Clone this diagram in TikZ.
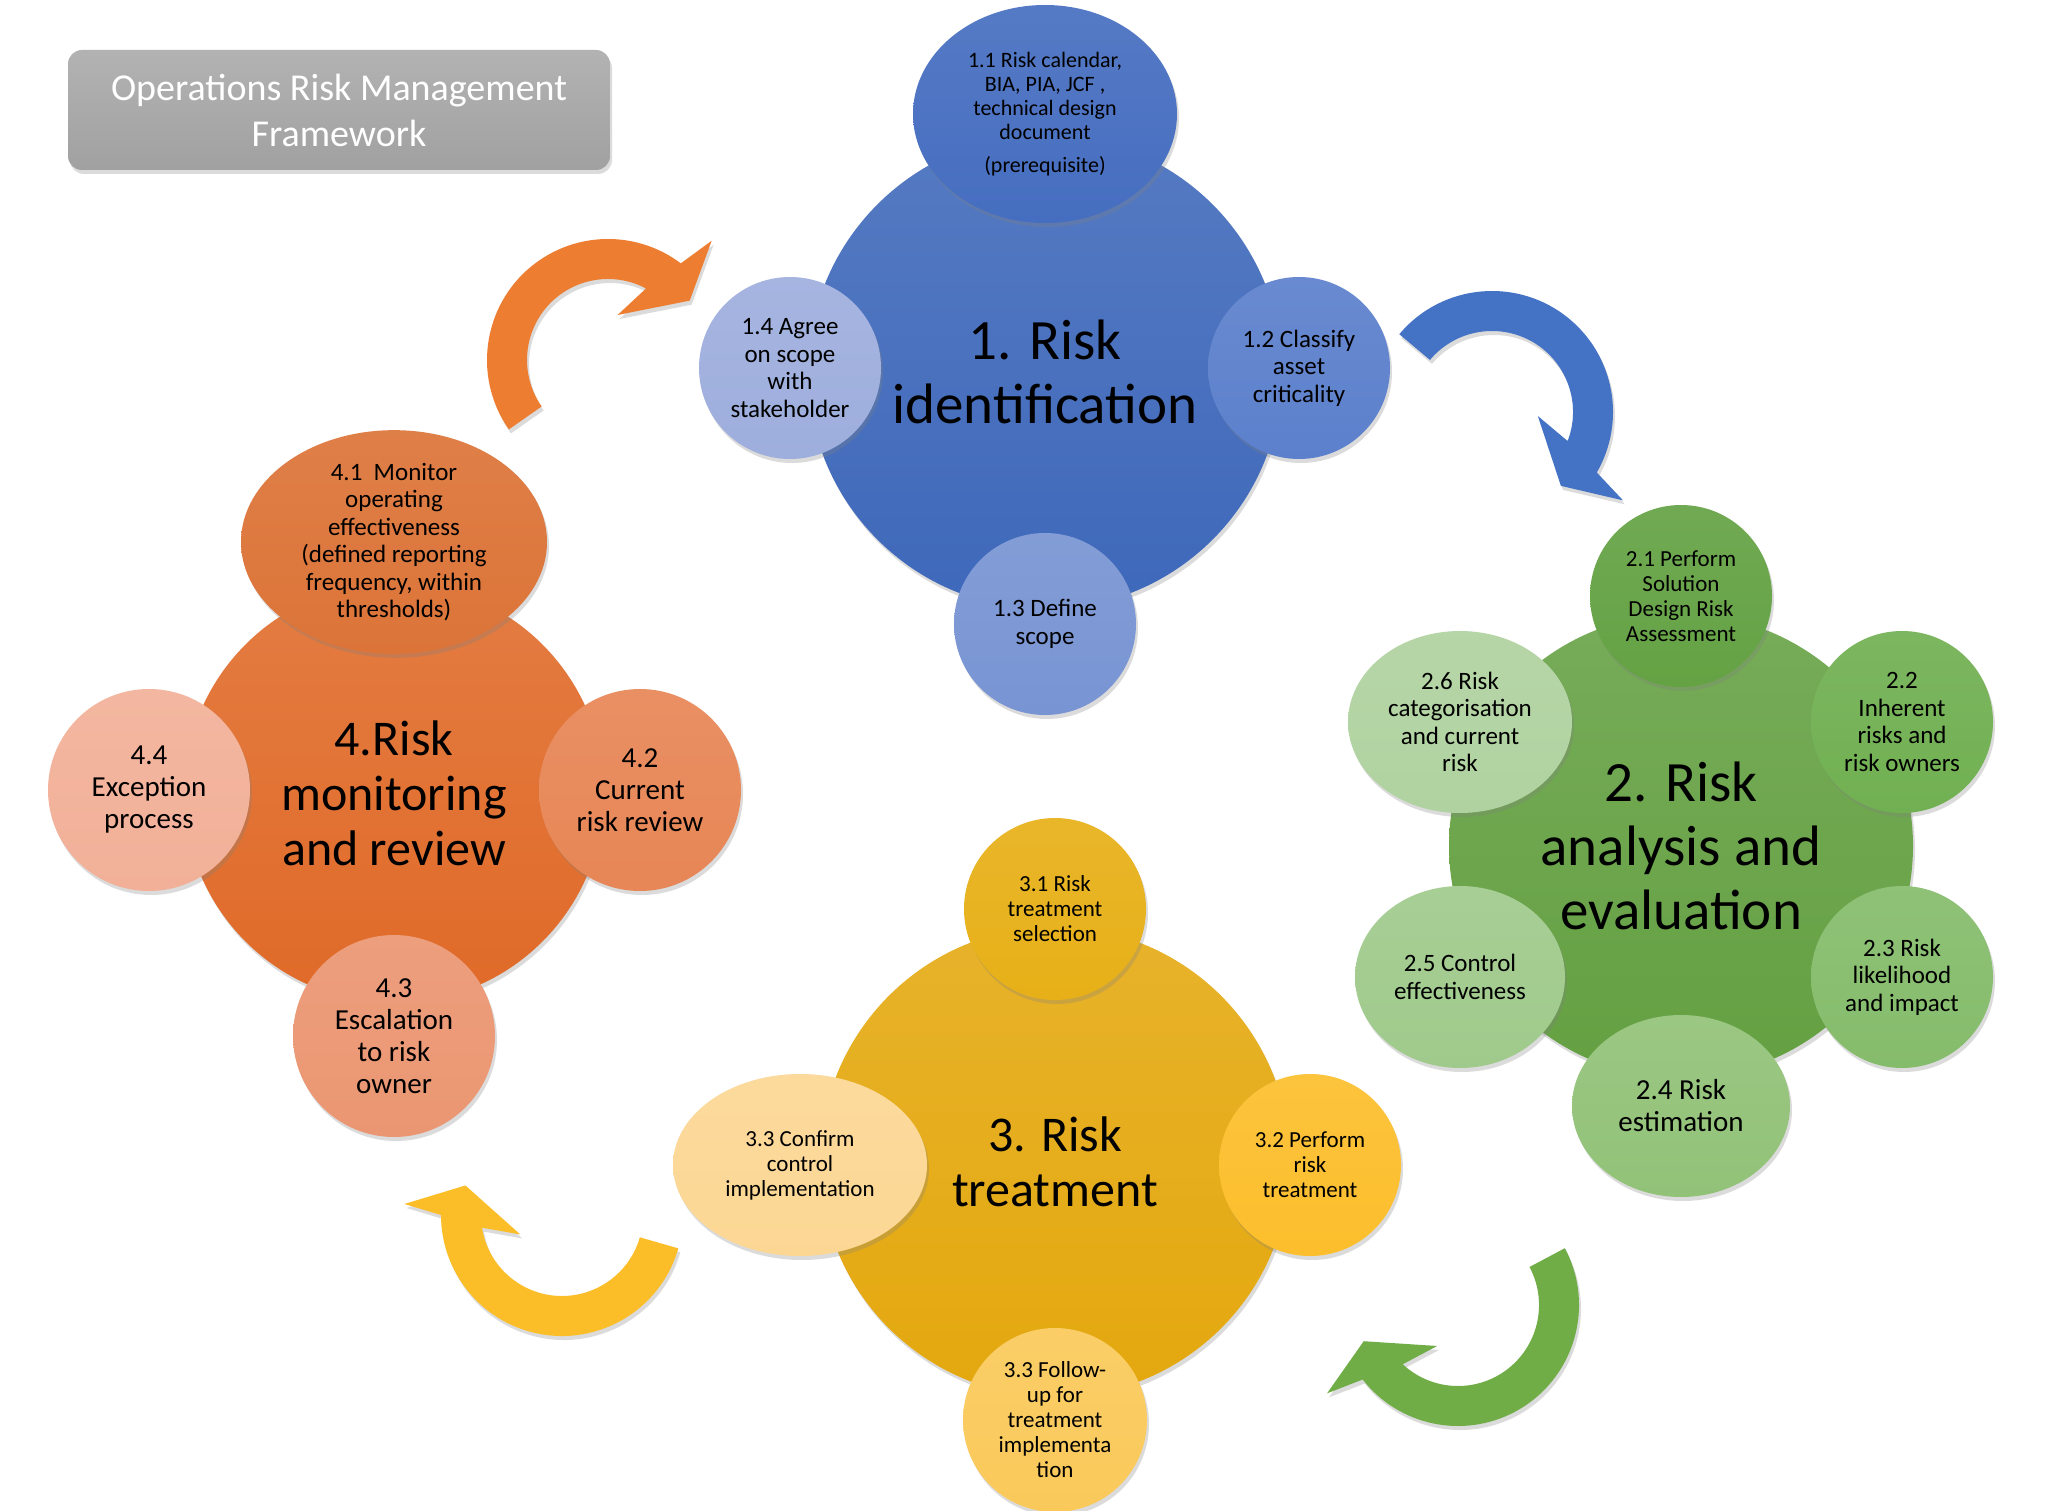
\documentclass[tikz,border=0pt]{standalone}
\usepackage{fontspec}
\setmainfont{Carlito}
\usepackage{xcolor}
\usetikzlibrary{shapes.geometric,shadows,calc}

\definecolor{idBlue}{RGB}{62,104,186}
\definecolor{idBlueA}{RGB}{70,110,192}
\definecolor{idBlueB}{RGB}{92,128,204}
\definecolor{idBlueC}{RGB}{120,148,211}
\definecolor{idBlueD}{RGB}{158,174,221}
\definecolor{anGreen}{RGB}{100,160,66}
\definecolor{anGreenA}{RGB}{100,162,68}
\definecolor{anGreenB}{RGB}{113,176,82}
\definecolor{anGreenC}{RGB}{133,188,107}
\definecolor{anGreenD}{RGB}{146,194,120}
\definecolor{anGreenE}{RGB}{160,202,140}
\definecolor{anGreenF}{RGB}{176,210,160}
\definecolor{trGold}{RGB}{228,168,14}
\definecolor{trGoldA}{RGB}{231,176,24}
\definecolor{trGoldB}{RGB}{252,190,44}
\definecolor{trGoldC}{RGB}{252,215,148}
\definecolor{trGoldD}{RGB}{250,201,90}
\definecolor{moOrange}{RGB}{224,106,40}
\definecolor{moOrangeA}{RGB}{220,116,56}
\definecolor{moOrangeB}{RGB}{231,134,86}
\definecolor{moOrangeC}{RGB}{235,150,114}
\definecolor{moOrangeD}{RGB}{242,176,152}
\definecolor{arrOrange}{RGB}{237,125,49}
\definecolor{arrBlue}{RGB}{68,114,196}
\definecolor{arrGreen}{RGB}{112,173,71}
\definecolor{arrYellow}{RGB}{251,190,40}

% circular block arrow: colour, centre, tail angle, end angle
\newcommand\cycarrow[4]{%
  \fill[#1, softshadow]
    ($(#2)+(#3:121)$) arc[start angle=#3, end angle=#4, radius=121]
    -- ($(#2)+({#4+4}:158)$) -- ($(#2)+({#4+17}:101)$)
    -- ($(#2)+({#4-25}:46)$) -- ($(#2)+({#4-9}:81)$)
    arc[start angle=#4-9, end angle=#3, radius=81] -- cycle;}

\begin{document}
\begin{tikzpicture}[
  x=1pt, y=-1pt,
  softshadow/.style={
    drop shadow={opacity=0.28, shadow xshift=2pt, shadow yshift=-4pt}
  },
  hub/.style={
    circle, inner sep=0pt, align=center, text=black,
    top color=#1!88!white, bottom color=#1, softshadow
  },
  sub/.style={
    circle, inner sep=0pt, align=center, text=black,
    top color=#1!92!white, bottom color=#1, softshadow
  },
  subell/.style={
    ellipse, inner sep=0pt, align=center, text=black,
    top color=#1!92!white, bottom color=#1, softshadow
  },
  titlebox/.style={
    rectangle, rounded corners=14pt, align=center, text=white,
    top color=black!30, bottom color=black!37, softshadow,
    minimum width=542pt, minimum height=120pt,
    font=\fontsize{38}{46}\selectfont
  },
  hubtxtL/.style={font=\fontsize{57}{64}\selectfont},
  hubtxtM/.style={font=\fontsize{50}{55}\selectfont},
  lblS/.style={font=\fontsize{23}{25}\selectfont},
  lblM/.style={font=\fontsize{25}{27.5}\selectfont},
  lblL/.style={font=\fontsize{29}{32}\selectfont}
]

\fill[white] (0,0) rectangle (2048,1511);
\useasboundingbox (0,0) rectangle (2048,1511);

% Title
\node[titlebox] (title) at (339,110) {Operations Risk Management\\Framework};

% Cycle arrows
\coordinate (arrOR) at (608,360);
\coordinate (arrBL) at (1492,412);
\coordinate (arrGR) at (1458,1305);
\coordinate (arrYE) at (562,1215);
\cycarrow{arrOrange}{arrOR}{145}{307}
\cycarrow{arrBlue}{arrBL}{220}{390}
\cycarrow{arrGreen}{arrGR}{-28}{142}
\cycarrow{arrYellow}{arrYE}{16}{180}

% 1. Risk identification
\node[hub=idBlue, minimum size=474pt, hubtxtL] (ident) at (1045,372) {1. Risk\\identification};
\node[subell=idBlueA, minimum width=264pt, minimum height=218pt, font=\fontsize{22}{24}\selectfont]
  (calendar) at (1045,114) {1.1 Risk calendar,\\BIA, PIA, JCF ,\\technical design\\document\\[9pt](prerequisite)};
\node[sub=idBlueB, minimum size=182pt, lblM] (classify) at (1299,368) {1.2 Classify\\asset\\criticality};
\node[sub=idBlueC, minimum size=182pt, lblM] (define) at (1045,624) {1.3 Define\\scope};
\node[sub=idBlueD, minimum size=182pt, lblM] (agree) at (790,368) {1.4 Agree\\on scope\\with\\stakeholder};

% 2. Risk analysis and evaluation
\node[hub=anGreen, minimum size=464pt, hubtxtL] (analysis) at (1681,846) {2. Risk\\analysis and\\evaluation};
\node[sub=anGreenA, minimum size=182pt, lblS] (sdra) at (1681,596) {2.1 Perform\\Solution\\Design Risk\\Assessment};
\node[sub=anGreenB, minimum size=182pt, lblM] (inherent) at (1902,722) {2.2\\Inherent\\risks and\\risk owners};
\node[sub=anGreenC, minimum size=182pt, lblM] (likely) at (1902,977) {2.3 Risk\\likelihood\\and impact};
\node[subell=anGreenD, minimum width=218pt, minimum height=182pt, lblL] (estim) at (1681,1106) {2.4 Risk\\estimation};
\node[subell=anGreenE, minimum width=210pt, minimum height=182pt, lblM] (ctrleff) at (1460,977) {2.5 Control\\effectiveness};
\node[subell=anGreenF, minimum width=224pt, minimum height=182pt, lblM] (categ) at (1460,722) {2.6 Risk\\categorisation\\and current\\risk};

% 3. Risk treatment
\node[hub=trGold, minimum size=470pt, hubtxtM] (treat) at (1055,1162) {3. Risk\\treatment};
\node[sub=trGoldA, minimum size=182pt, lblS] (select) at (1055,909) {3.1 Risk\\treatment\\selection};
\node[sub=trGoldB, minimum size=182pt, lblS] (perform) at (1310,1165) {3.2 Perform\\risk\\treatment};
\node[subell=trGoldC, minimum width=254pt, minimum height=182pt, lblS] (confirm) at (800,1165) {3.3 Confirm\\control\\implementation};
\node[sub=trGoldD, minimum size=184pt, lblS] (follow) at (1055,1420) {3.3 Follow-\\up for\\treatment\\implementa\\tion};

% 4. Risk monitoring and review
\node[hub=moOrange, minimum size=420pt, hubtxtM] (monitor) at (394,793) {4.Risk\\monitoring\\and review};
\node[subell=moOrangeA, minimum width=306pt, minimum height=202pt, lblM] (opeff) at (394,542) {4.1\ \ Monitor\\operating\\effectiveness\\(defined reporting\\frequency, within\\thresholds)};
\node[sub=moOrangeB, minimum size=202pt, lblL] (current) at (640,790) {4.2\\Current\\risk review};
\node[sub=moOrangeC, minimum size=202pt, lblL] (escal) at (394,1036) {4.3\\Escalation\\to risk\\owner};
\node[sub=moOrangeD, minimum size=202pt, lblL] (except) at (149,790) {4.4\\Exception\\process};

\end{tikzpicture}
\end{document}
